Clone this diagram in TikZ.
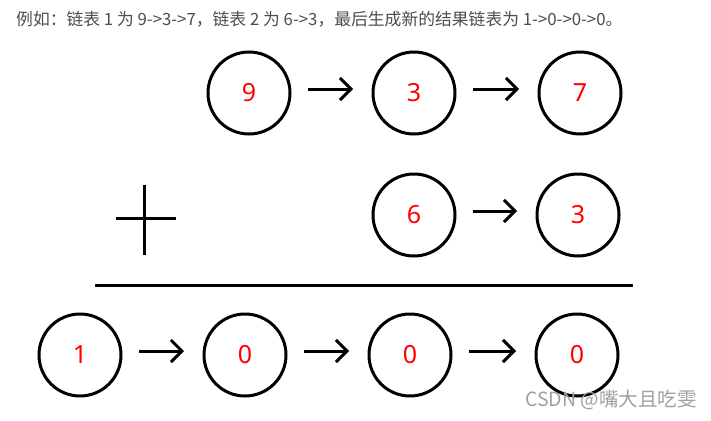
\documentclass[tikz,border=0pt]{standalone}
\usepackage{fontspec}
\setmainfont{Noto Sans}
\newfontfamily\cjkfont{Noto Sans CJK SC}
\usetikzlibrary{arrows.meta}
\definecolor{captiongray}{RGB}{77,77,77}
\definecolor{markgray}{RGB}{160,160,160}

\begin{document}
\begin{tikzpicture}
[x=1pt,y=-1pt,%
  linedecorate/.style={-{Straight Barb[length=11pt,width=22pt]},line width=3pt,shorten <=16.5pt,shorten >=18.5pt},%
  nodedecorate/.style={shape=circle,draw,line width=3pt,minimum size=82pt,inner sep=0pt,text=red,font=\fontsize{25}{30}\selectfont},%
  plaindecorate/.style={-,line width=3pt}]
\fill[white] (0,0) rectangle (711,420);
\useasboundingbox (0,0) rectangle (711,420);
%% caption on top
\node (caption) at (16,19) [anchor=west,text=captiongray,inner sep=0pt]
  {\cjkfont\fontsize{16.8}{20}\selectfont 例如：链表 1 为 9->3->7，链表 2 为 6->3，最后生成新的结果链表为 1->0->0->0。};
%% vertices or nodes
%% a = list 1, b = list 2, c = result
\foreach \nodename/\x/\y/\val in {
a1/249/93/9, a2/414/93/3, a3/580/93/7,
b1/414/215/6, b2/578/215/3,
c1/80/355/1, c2/245/355/0, c3/410/355/0, c4/577/355/0}
{
  \node (\nodename) at (\x,\y) [nodedecorate] {\val};
}
%% edges or lines
\path
\foreach \startnode/\endnode in {
a1/a2, a2/a3, b1/b2, c1/c2, c2/c3, c3/c4}
{
  ([yshift=4pt]\startnode.east) edge[linedecorate] ([yshift=4pt]\endnode.west)
};
%% plus sign and sum line
\draw[plaindecorate] (116,218) -- (176,218);
\draw[plaindecorate] (144,185) -- (144,255);
\draw[plaindecorate] (95,285) -- (633,285);
%% watermark
\node (mark) at (697,400) [anchor=east,text=markgray,inner sep=0pt]
  {\cjkfont\fontsize{19.5}{22}\selectfont CSDN @嘴大且吃雯};
\end{tikzpicture}
\end{document}
